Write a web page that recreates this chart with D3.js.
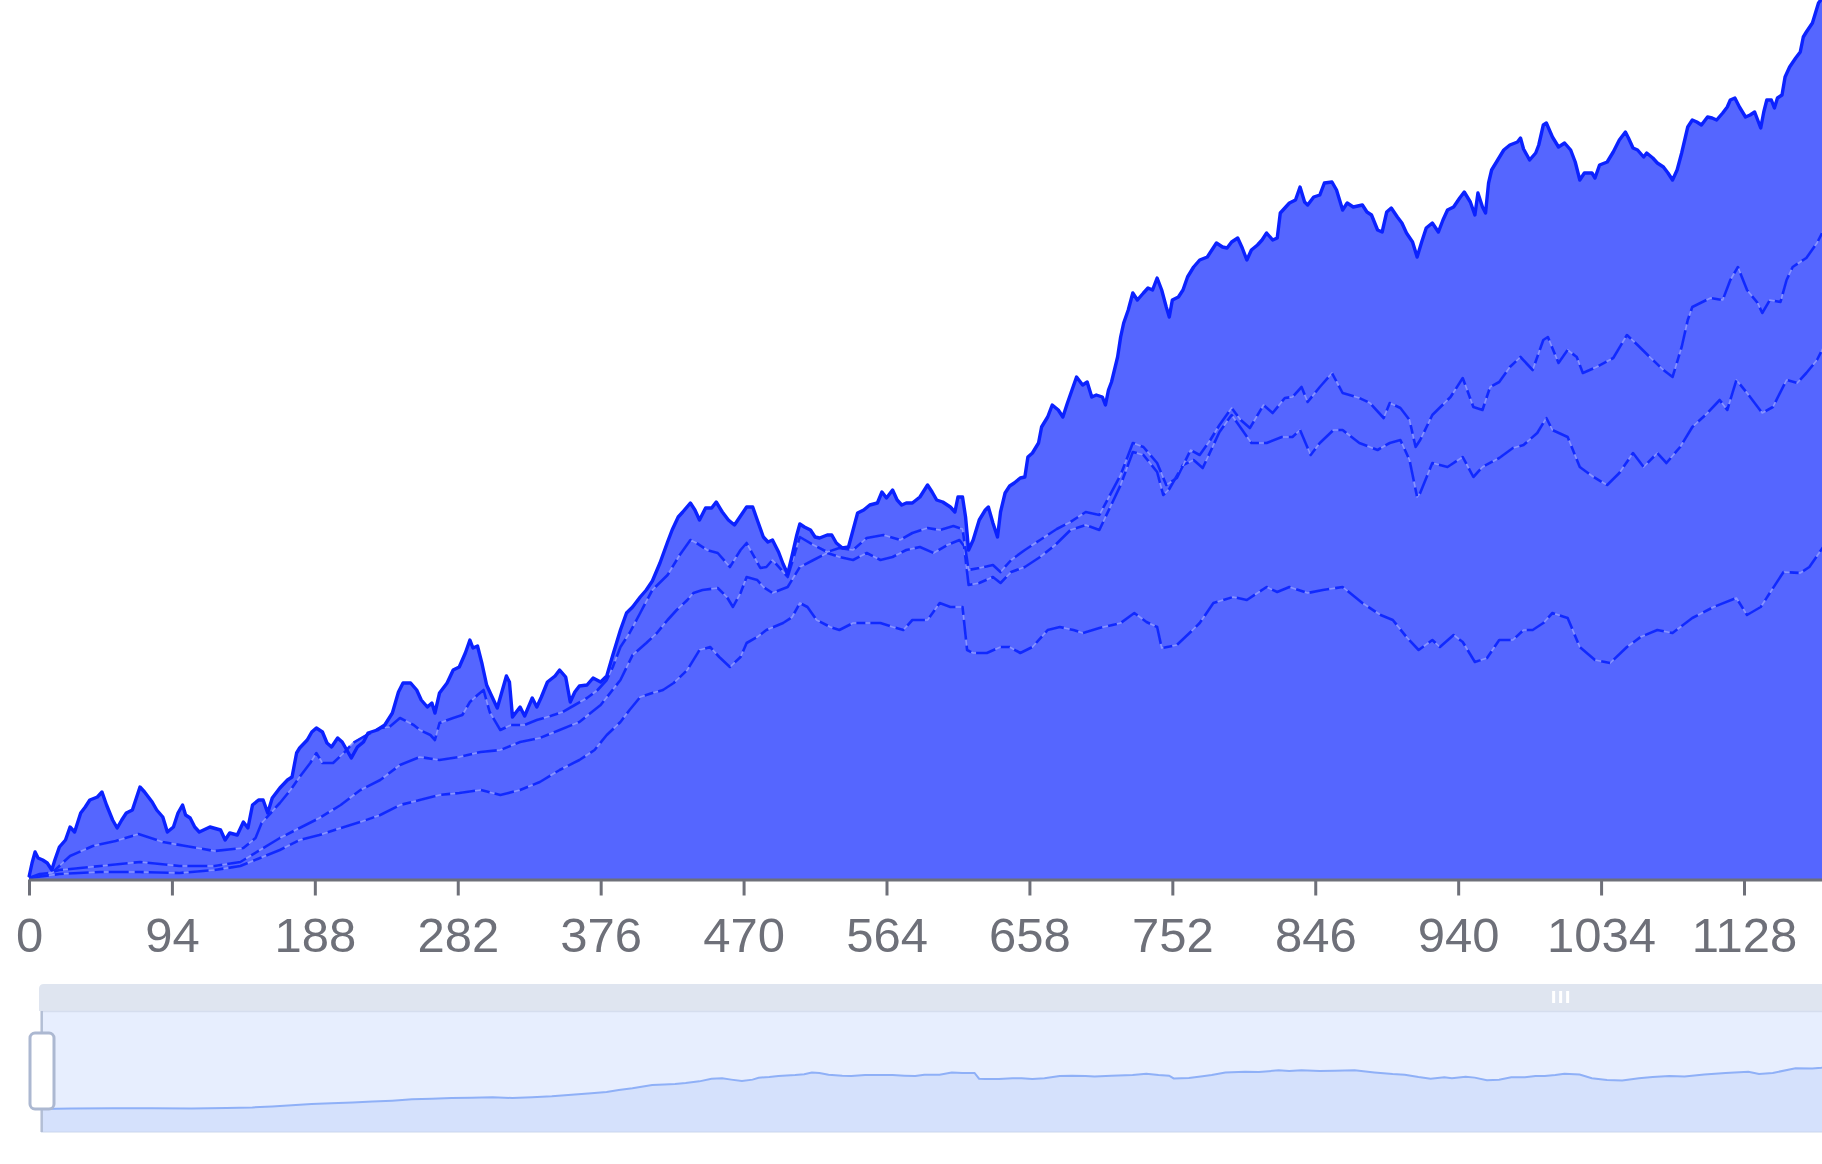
<!DOCTYPE html>
<html>
<head>
<meta charset="utf-8">
<script src="https://cdn.jsdelivr.net/npm/d3@7/dist/d3.min.js"></script>
<style>
  html, body { margin: 0; padding: 0; background: #ffffff; overflow: hidden; }
  svg { display: block; }
</style>
</head>
<body>
<svg id="chart" width="1822" height="1164"></svg>
<script>
// ---------------- DATA (category index, value) ----------------
const tickValues = [0, 94, 188, 282, 376, 470, 564, 658, 752, 846, 940, 1034, 1128];
const totalPoints = 2000;          // length of the whole category axis
const shadowExtent = [0, 568];     // value extent of the first series (for the slider shadow)

// lowest series (also drawn as the slider data shadow)
const seriesD = [[0,2],[20,6],[47,8],[73,8],[99,7],[122,10],[139,14],[152,22],[165,30],[178,40],[191,45],[205,52],[218,58],[231,65],[244,75],[257,80],[270,85],[283,87],[297,90],[310,85],[323,90],[336,98],[349,110],[362,120],[372,130],[380,145],[389,158],[395,170],[402,183],[410,187],[417,190],[424,197],[433,210],[441,230],[448,233],[454,223],[461,213],[468,223],[472,237],[479,243],[485,250],[496,257],[502,263],[507,277],[512,273],[518,260],[527,253],[533,250],[542,257],[551,257],[560,257],[568,253],[575,250],[581,260],[591,260],[599,277],[606,273],[614,273],[617,230],[621,227],[630,227],[639,233],[645,233],[652,227],[660,233],[670,250],[678,253],[687,250],[693,247],[704,252],[718,257],[727,267],[735,258],[742,253],[745,232],[755,235],[764,248],[770,257],[779,277],[792,283],[801,280],[814,293],[821,288],[829,293],[841,287],[851,290],[864,293],[877,277],[889,265],[897,260],[906,243],[914,230],[923,240],[928,233],[937,245],[943,238],[951,218],[959,222],[967,240],[976,240],[983,250],[989,250],[996,257],[1002,267],[1012,262],[1020,233],[1030,220],[1040,217],[1051,233],[1060,243],[1071,250],[1081,247],[1094,262],[1108,273],[1123,282],[1130,265],[1139,273],[1154,308],[1165,307],[1171,313],[1181,335]];

const seriesC = [[0,2],[20,10],[47,14],[73,18],[99,14],[122,14],[139,18],[152,30],[165,42],[178,52],[191,62],[205,75],[218,90],[231,100],[244,115],[257,123],[270,120],[283,123],[297,128],[310,130],[323,138],[336,142],[349,150],[362,158],[376,175],[389,200],[397,225],[406,237],[413,247],[420,260],[426,270],[433,280],[437,287],[443,290],[453,292],[459,283],[463,273],[468,287],[472,303],[479,300],[483,293],[489,287],[499,293],[507,313],[516,320],[525,327],[533,323],[542,320],[551,327],[560,320],[568,323],[577,330],[586,333],[595,327],[604,335],[612,340],[615,334],[618,295],[625,297],[634,303],[639,297],[646,308],[655,313],[665,323],[675,335],[685,350],[695,355],[704,350],[718,395],[726,428],[733,425],[742,408],[746,385],[750,391],[759,415],[766,420],[772,412],[783,448],[791,465],[798,450],[804,437],[814,437],[824,443],[831,443],[836,450],[843,425],[849,437],[858,450],[864,450],[875,437],[887,430],[895,437],[902,440],[908,420],[913,383],[915,387],[923,417],[933,413],[943,423],[950,403],[956,413],[967,422],[976,432],[983,435],[992,447],[998,462],[1002,450],[1012,443],[1020,413],[1029,403],[1038,395],[1046,407],[1055,427],[1062,413],[1071,427],[1077,417],[1086,433],[1094,453],[1104,467],[1112,480],[1117,470],[1123,500],[1130,487],[1140,467],[1147,473],[1156,500],[1163,497],[1169,507],[1176,520],[1181,535]];

const seriesB = [[0,2],[7,6],[15,7],[27,24],[42,34],[57,39],[72,46],[88,38],[103,34],[122,29],[141,32],[149,42],[153,57],[159,67],[165,77],[172,90],[178,103],[185,117],[189,127],[193,117],[200,117],[207,127],[213,137],[222,145],[231,152],[237,153],[244,162],[253,155],[257,150],[264,145],[267,140],[270,157],[279,162],[285,165],[290,178],[295,185],[299,190],[303,168],[310,150],[317,155],[326,155],[334,160],[343,164],[351,168],[359,175],[367,182],[374,190],[380,200],[384,213],[389,233],[395,247],[402,267],[410,290],[420,305],[428,325],[435,340],[439,337],[446,330],[453,327],[461,313],[468,330],[472,337],[481,312],[485,313],[489,320],[499,303],[507,343],[516,335],[525,328],[533,332],[542,330],[551,342],[562,345],[573,340],[581,347],[591,352],[599,350],[608,354],[614,351],[618,310],[625,312],[634,315],[639,308],[646,320],[655,330],[665,340],[676,351],[685,358],[695,368],[704,365],[718,405],[726,437],[733,433],[742,417],[748,395],[755,402],[764,430],[770,425],[777,440],[783,455],[791,472],[797,460],[803,452],[812,475],[818,467],[826,482],[831,483],[837,493],[841,478],[849,493],[857,507],[864,487],[875,482],[882,477],[891,462],[895,477],[902,472],[908,460],[912,433],[915,440],[923,465],[935,483],[943,502],[950,473],[956,470],[961,493],[967,498],[974,513],[981,523],[989,510],[996,540],[999,543],[1006,517],[1012,530],[1018,523],[1022,507],[1031,513],[1042,522],[1051,545],[1058,535],[1066,523],[1075,510],[1081,503],[1087,533],[1091,560],[1094,573],[1106,582],[1114,580],[1119,600],[1124,613],[1130,590],[1137,577],[1140,567],[1145,580],[1152,578],[1156,600],[1160,613],[1169,622],[1176,637],[1181,652]];

const seriesA = [[0,3],[2,17],[4,28],[6,22],[9,20],[12,17],[15,10],[17,20],[20,33],[24,40],[27,53],[30,48],[34,67],[37,73],[40,80],[45,83],[48,88],[51,75],[55,60],[58,52],[61,60],[64,67],[68,70],[73,93],[76,88],[81,78],[84,70],[88,63],[91,48],[95,53],[98,67],[101,75],[103,65],[106,62],[109,53],[112,48],[119,53],[126,50],[129,40],[132,47],[137,45],[141,58],[144,52],[147,75],[151,80],[154,80],[157,67],[160,82],[165,92],[170,100],[173,103],[176,127],[178,132],[183,140],[186,148],[189,152],[193,148],[196,137],[199,133],[203,142],[206,138],[209,130],[212,122],[216,133],[220,138],[223,147],[229,150],[234,155],[239,167],[243,188],[246,197],[251,197],[255,190],[258,180],[262,173],[265,177],[267,167],[270,187],[275,197],[279,210],[283,213],[287,227],[290,240],[292,232],[295,234],[298,216],[301,195],[304,185],[308,172],[311,188],[314,204],[316,198],[318,163],[323,173],[326,164],[331,182],[334,173],[337,183],[341,198],[346,204],[349,210],[353,203],[356,178],[359,188],[362,194],[367,195],[371,202],[376,198],[380,204],[384,225],[389,250],[393,267],[397,273],[402,283],[406,290],[410,299],[415,317],[420,338],[423,350],[427,363],[430,368],[435,377],[438,370],[441,360],[445,372],[449,372],[452,378],[456,368],[460,360],[464,355],[468,364],[472,373],[476,373],[479,360],[483,343],[486,338],[489,340],[493,328],[496,316],[499,306],[502,325],[505,345],[507,356],[510,353],[514,350],[517,343],[520,342],[525,345],[528,345],[531,337],[535,332],[539,333],[542,350],[545,367],[549,370],[553,375],[558,377],[561,388],[564,382],[568,390],[571,380],[574,375],[577,377],[581,377],[586,383],[591,395],[594,388],[597,380],[601,378],[606,373],[609,368],[611,383],[614,383],[616,363],[618,330],[621,340],[625,360],[629,370],[631,373],[634,357],[637,343],[639,368],[642,387],[645,394],[648,397],[652,402],[655,403],[657,423],[660,427],[664,437],[666,453],[670,463],[673,475],[677,470],[680,463],[683,477],[686,490],[689,503],[693,495],[696,498],[699,483],[702,485],[706,483],[708,475],[710,490],[712,498],[716,523],[718,543],[720,557],[723,570],[726,587],[729,580],[733,587],[736,592],[739,590],[742,602],[745,590],[748,573],[750,563],[752,580],[756,583],[759,590],[762,603],[766,613],[770,620],[775,623],[778,630],[781,637],[785,633],[788,632],[791,638],[795,642],[798,632],[801,620],[804,630],[808,635],[811,640],[814,647],[818,640],[821,642],[823,667],[826,672],[829,677],[833,680],[836,693],[839,678],[841,675],[845,683],[849,685],[852,697],[857,698],[860,690],[864,670],[867,677],[871,673],[877,675],[880,668],[883,665],[887,650],[890,648],[893,668],[896,672],[900,663],[903,657],[906,647],[910,638],[913,623],[916,638],[919,652],[923,657],[927,648],[930,660],[933,670],[937,673],[941,682],[944,688],[948,678],[951,665],[953,687],[956,673],[958,667],[960,697],[962,710],[966,720],[970,730],[974,735],[979,738],[981,742],[983,731],[987,720],[991,727],[993,735],[996,755],[998,757],[1002,743],[1006,733],[1010,737],[1014,730],[1017,718],[1020,700],[1023,707],[1028,707],[1030,702],[1033,715],[1038,718],[1042,728],[1046,740],[1050,748],[1052,742],[1055,732],[1058,730],[1062,723],[1064,727],[1068,722],[1071,717],[1075,713],[1078,707],[1081,700],[1084,710],[1087,727],[1091,753],[1094,760],[1097,758],[1100,755],[1104,763],[1107,762],[1110,760],[1114,767],[1117,773],[1119,780],[1122,782],[1125,773],[1129,763],[1132,765],[1135,768],[1139,752],[1141,768],[1143,780],[1146,780],[1148,772],[1150,782],[1153,785],[1155,803],[1158,813],[1162,822],[1165,828],[1167,843],[1169,848],[1173,857],[1175,867],[1177,877],[1181,885]];

// ---------------- CHART ----------------
const svg = d3.select("#chart");

const x = d3.scaleLinear().domain([0, 1128]).range([29, 1744]);
const y = d3.scaleLinear().domain([0, 880]).range([880, 0]);

const plot = svg.append("g");
plot.append("clipPath").attr("id", "plotClip")
  .append("rect").attr("x", 0).attr("y", 0).attr("width", 1822).attr("height", 880);
const gPlot = plot.append("g").attr("clip-path", "url(#plotClip)");

const area = d3.area().x(d => x(d[0])).y0(y(0)).y1(d => y(d[1])).curve(d3.curveLinear);
const line = d3.line().x(d => x(d[0])).y(d => y(d[1])).curve(d3.curveLinear);

const fillColor = "#5566ff";

// areas (largest first)
[seriesA, seriesB, seriesC, seriesD].forEach(s => {
  gPlot.append("path").attr("d", area(s)).attr("fill", fillColor).attr("stroke", "none");
});

// inner lines: light seam underneath, dark broken line on top
[seriesD, seriesC, seriesB].forEach(s => {
  gPlot.append("path").attr("d", line(s)).attr("fill", "none")
    .attr("stroke", "#8894ff").attr("stroke-width", 1.6).attr("stroke-linejoin", "round");
  gPlot.append("path").attr("d", line(s)).attr("fill", "none")
    .attr("stroke", "#1029ff").attr("stroke-width", 2.6).attr("stroke-linejoin", "round")
    .attr("stroke-dasharray", "20 6 9 5");
});
// top line
gPlot.append("path").attr("d", line(seriesA)).attr("fill", "none")
  .attr("stroke", "#0b22ff").attr("stroke-width", 3.4).attr("stroke-linejoin", "round");

// ---------------- X AXIS ----------------
const axisScale = x.copy().domain([0, 1182]).range([x(0), x(1182)]);
const gx = svg.append("g").attr("transform", "translate(0,879.5)")
  .call(d3.axisBottom(axisScale).tickValues(tickValues).tickSize(16).tickSizeOuter(0).tickFormat(d3.format("d")));
gx.select(".domain").attr("stroke", "#6E7079").attr("stroke-width", 3);
gx.selectAll(".tick line").attr("stroke", "#6E7079").attr("stroke-width", 3);
gx.selectAll(".tick text")
  .attr("y", 72.5).attr("dy", 0)
  .attr("fill", "#6E7079")
  .style("font-family", "'Liberation Sans', Arial, Helvetica, sans-serif")
  .style("font-size", "49px");

// ---------------- DATA ZOOM SLIDER ----------------
const sliderTop = 1011, sliderBottom = 1132, sliderLeft = 41;
const sx = d3.scaleLinear().domain([0, 1128]).range([sliderLeft, sliderLeft + (x(1128) - x(0))]);
const pad = (shadowExtent[1] - shadowExtent[0]) * 0.3;
const sy = d3.scaleLinear().domain([shadowExtent[0] - pad, shadowExtent[1] + pad]).range([sliderBottom, sliderTop]);

const gz = svg.append("g");
// move-handle bar (top strip)
gz.append("path")
  .attr("d", `M${sliderLeft-2},${sliderTop} L${sliderLeft-2},989 Q${sliderLeft-2},984 ${sliderLeft+3},984 L1830,984 L1830,${sliderTop} Z`)
  .attr("fill", "#dfe5f0");
// selected body
gz.append("rect").attr("x", sliderLeft).attr("y", sliderTop)
  .attr("width", 1900).attr("height", sliderBottom - sliderTop)
  .attr("fill", "#e7eefe");
gz.append("line").attr("x1", sliderLeft).attr("x2", 1830).attr("y1", sliderTop + 0.5).attr("y2", sliderTop + 0.5)
  .attr("stroke", "#d5ddee").attr("stroke-width", 1.5);
gz.append("line").attr("x1", sliderLeft).attr("x2", 1830).attr("y1", sliderBottom).attr("y2", sliderBottom)
  .attr("stroke", "#dde4f2").attr("stroke-width", 1.5);

// data shadow
const shadowArea = d3.area().x(d => sx(d[0])).y0(sliderBottom).y1(d => sy(d[1]));
const shadowLine = d3.line().x(d => sx(d[0])).y(d => sy(d[1]));
gz.append("path").attr("d", shadowArea(seriesD)).attr("fill", "rgba(143,176,247,0.2)");
gz.append("path").attr("d", shadowLine(seriesD)).attr("fill", "none")
  .attr("stroke", "#8fb0f7").attr("stroke-width", 2);

// move handle icon (III) centred on the selected window
const cx = (sx(0) + sx(totalPoints - 1)) / 2;
[-7, 0, 7].forEach(o => {
  gz.append("rect").attr("x", cx + o - 1.5).attr("y", 991).attr("width", 3).attr("height", 12)
    .attr("fill", "#ffffff");
});

// left handle
gz.append("line").attr("x1", sliderLeft + 0.7).attr("x2", sliderLeft + 0.7)
  .attr("y1", sliderTop).attr("y2", sliderBottom)
  .attr("stroke", "#b3bed5").attr("stroke-width", 2.5);
gz.append("rect").attr("x", 30).attr("y", 1033).attr("width", 24).attr("height", 76)
  .attr("rx", 5).attr("ry", 5)
  .attr("fill", "#ffffff").attr("stroke", "#acb8d1").attr("stroke-width", 3);
</script>
</body>
</html>
